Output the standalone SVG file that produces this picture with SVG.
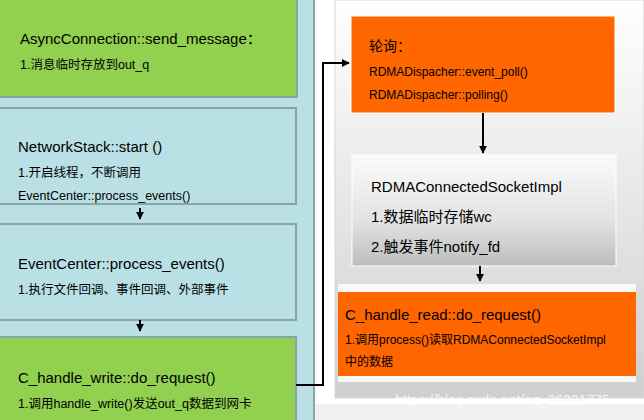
<svg xmlns="http://www.w3.org/2000/svg" width="644" height="420" viewBox="0 0 644 420">
<defs>
<linearGradient id="bg" x1="0" y1="0" x2="0" y2="1"><stop offset="0" stop-color="#ffffff"/><stop offset="1" stop-color="#cfcfcf"/></linearGradient>
<linearGradient id="gw" x1="0" y1="0" x2="0" y2="1"><stop offset="0" stop-color="#fbfbfb"/><stop offset="0.6" stop-color="#e2e2e2"/><stop offset="1" stop-color="#bdbdbd"/></linearGradient>
<marker id="ah" viewBox="0 0 10 10" refX="9" refY="5" markerWidth="4" markerHeight="4" orient="auto"><path d="M0,0L10,5L0,10z" fill="#000"/></marker>
<style>
.t{font-family:"Liberation Sans","Noto Sans CJK SC",sans-serif;fill:#000}
.g{fill:#92d050;stroke:#8aa5a8;stroke-width:2}
.b{fill:#b9e0e4;stroke:#8aa5a8;stroke-width:2}
.o{fill:#ff6600}
.c{stroke:#000;stroke-width:2;fill:none}
.s{font-size:12.5px}
.r{font-size:12px}
</style>
</defs>
<rect x="0" y="0" width="644" height="420" fill="#ffffff"/>
<rect x="0" y="404" width="644" height="16" fill="#f0f0f0"/>
<rect x="0" y="0" width="314" height="420" fill="#b9e0e4"/>
<line x1="314" y1="0" x2="314" y2="420" stroke="#8aa5a8" stroke-width="2"/>
<rect x="335" y="0" width="309" height="398" fill="url(#bg)" stroke="#d8d8d8"/>
<g id="n1"><rect class="g" x="-2" y="-2" width="299" height="99"/>
<text class="t" x="20" y="44" font-size="15">AsyncConnection::send_message：</text>
<text class="t s" x="20" y="69">1.消息临时存放到out_q</text></g>
<g id="n2"><rect class="b" x="-2" y="108" width="298" height="96"/>
<text class="t" x="18" y="152" font-size="15">NetworkStack::start ()</text>
<text class="t s" x="18" y="177">1.开启线程，不断调用</text>
<text class="t s" x="18" y="200">EventCenter::process_events()</text></g>
<g id="n3"><rect class="b" x="-2" y="224" width="298" height="96"/>
<text class="t" x="18" y="269" font-size="15">EventCenter::process_events()</text>
<text class="t s" x="18" y="294">1.执行文件回调、事件回调、外部事件</text></g>
<g id="n4"><rect class="g" x="-2" y="337" width="298" height="88"/>
<text class="t" x="18" y="383" font-size="15">C_handle_write::do_request()</text>
<text class="t s" x="18" y="408">1.调用handle_write()发送out_q数据到网卡</text></g>
<g id="n5"><rect class="o" x="351" y="16" width="264" height="97" stroke="#ffffff"/>
<text class="t" x="369" y="51" font-size="14">轮询：</text>
<text class="t r" x="369" y="76">RDMADispacher::event_poll()</text>
<text class="t r" x="369" y="99">RDMADispacher::polling()</text></g>
<g id="n6"><rect x="352" y="155" width="264" height="111" fill="url(#gw)" stroke="#ffffff"/>
<text class="t" x="371" y="192" font-size="15">RDMAConnectedSocketImpl</text>
<text class="t" x="371" y="222" font-size="15">1.数据临时存储wc</text>
<text class="t" x="371" y="252" font-size="15">2.触发事件notify_fd</text></g>
<g id="n7"><rect x="338" y="284" width="298" height="98" fill="#f8f8f8"/>
<rect class="o" x="338" y="292" width="298" height="84"/>
<text class="t" x="345" y="320" font-size="15">C_handle_read::do_request()</text>
<text class="t r" x="345" y="344">1.调用process()读取RDMAConnectedSocketImpl</text>
<text class="t r" x="345" y="366">中的数据</text></g>
<g id="edges">
<path class="c" d="M140,208V219" marker-end="url(#ah)"/>
<path class="c" d="M140,320V331" marker-end="url(#ah)"/>
<path class="c" d="M296,385H323V63H349" marker-end="url(#ah)"/>
<path class="c" d="M483,113V153" marker-end="url(#ah)"/>
<path class="c" d="M480,266V281" marker-end="url(#ah)"/>
</g>
<text x="395" y="405" font-family="Liberation Sans,sans-serif" font-size="14" fill="#ffffff" opacity="0.8">https://blog.csdn.net/qq_26221775</text>
</svg>
